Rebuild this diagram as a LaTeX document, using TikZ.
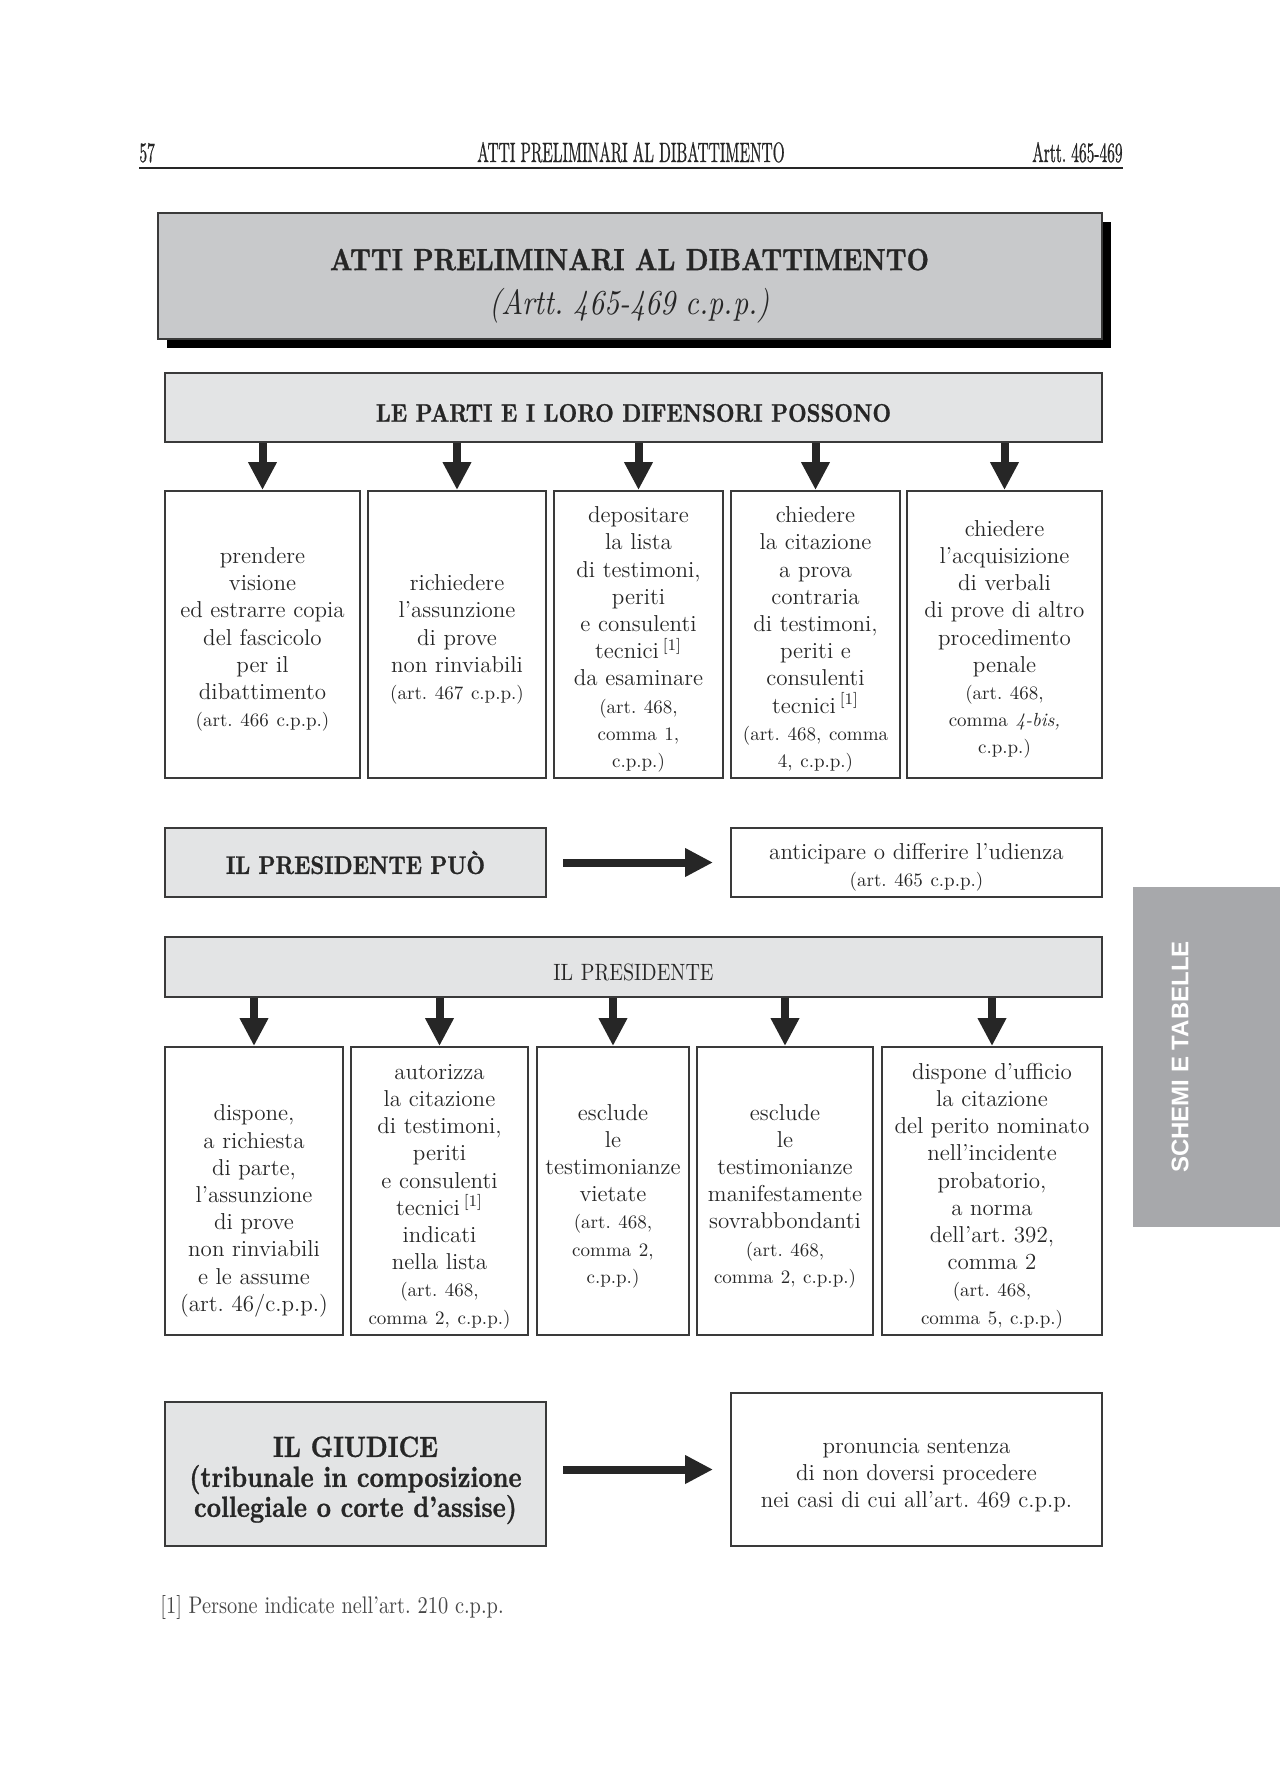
\documentclass[tikz,border=0pt]{standalone}
\usepackage{fontspec}
\usetikzlibrary{arrows.meta,shadows}

\newfontfamily\condfont[FakeStretch=0.85,Extension=.otf,UprightFont=*-regular,BoldFont=*-bold,ItalicFont=*-italic,BoldFeatures={FakeBold=1}]{lmroman10}
\newfontfamily\hdrfont[FakeStretch=0.55,FakeBold=0.6,Extension=.otf,UprightFont=*-regular]{lmroman10}
\newfontfamily\tabfont{Liberation Sans}
\frenchspacing

\definecolor{ink}{HTML}{262626}
\definecolor{edge}{HTML}{3A3A3A}
\definecolor{pale}{HTML}{E3E4E5}
\definecolor{mid}{HTML}{C8C9CB}
\definecolor{tabgray}{HTML}{A7A8AB}

\newcommand\cellfont{\fontsize{11.5}{13.6}\selectfont}
\newcommand\artfont{\fontsize{9.5}{13.6}\selectfont}
\newcommand\nota{\,\textsuperscript{[1]}}

\begin{document}
\begin{tikzpicture}[x=0.5pt, y=-0.5pt,
  cell/.style={draw=edge, line width=1pt, align=center, inner xsep=1pt, inner ysep=0pt, font=\cellfont, text=ink,
    execute at begin node={\rule{0pt}{1.13em}}},
  wd/.style={text width=#1},
  bar/.style={cell, fill=pale, font=\condfont\bfseries\fontsize{12.7}{15}\selectfont},
  push/.style={-{Triangle[width=13.5pt,length=14pt]}, line width=4pt, draw=ink}]
\useasboundingbox (0,0) rectangle (1280,1788);

% running head
\node[anchor=base west, inner sep=0, text=ink, font=\hdrfont\fontsize{14}{16}\selectfont] (pag) at (139,162) {57};
\node[anchor=base, inner sep=0, text=ink, font=\hdrfont\fontsize{14}{16}\selectfont] (run) at (631,162) {ATTI PRELIMINARI AL DIBATTIMENTO};
\node[anchor=base east, inner sep=0, text=ink, font=\hdrfont\fontsize{14}{16}\selectfont] (artt) at (1123,162) {Artt. 465-469};
\draw[line width=0.8pt, ink] (139,168) -- (1123,168);

\node[cell, fill=mid, wd=470pt, minimum height=63pt, font=\condfont\fontsize{15.3}{22}\selectfont,
  drop shadow={shadow xshift=4.5pt, shadow yshift=-4.5pt, fill=black, opacity=1}] (title) at (629.5,276)
  {\rule{0pt}{20.5pt}{\bfseries ATTI PRELIMINARI AL DIBATTIMENTO}\\{\itshape\fontsize{17.5}{22}\selectfont (Artt. 465-469 c.p.p.)}};

% le parti
\node[bar, wd=466.5pt, minimum height=34.5pt] (parti) at (633.5,407.5) {LE PARTI E I LORO DIFENSORI POSSONO};

\node[cell, wd=95.5pt, minimum height=143.5pt] (b1) at (262.5,634.5)
  {prendere\\visione\\ed estrarre copia\\del fascicolo\\per il\\dibattimento\\\artfont (art. 466 c.p.p.)};
\node[cell, wd=87pt, minimum height=143.5pt] (b2) at (457,634.5)
  {richiedere\\l’assunzione\\di prove\\non rinviabili\\\artfont (art. 467 c.p.p.)};
\node[cell, wd=82.5pt, minimum height=143.5pt] (b3) at (638.5,634.5)
  {depositare\\la lista\\di testimoni,\\periti\\e consulenti\\tecnici\nota\\da esaminare\\\artfont (art. 468,\\comma 1,\\c.p.p.)};
\node[cell, wd=82.5pt, minimum height=143.5pt] (b4) at (815.5,634.5)
  {chiedere\\la citazione\\a prova\\contraria\\di testimoni,\\periti e\\consulenti\\tecnici\nota\\\artfont (art. 468, comma\\4, c.p.p.)};
\node[cell, wd=95.5pt, minimum height=143.5pt] (b5) at (1004.5,634.5)
  {chiedere\\l’acquisizione\\di verbali\\di prove di altro\\procedimento\\penale\\\artfont (art. 468,\\comma \textit{4-bis,}\\c.p.p.)};
\foreach \n in {1,...,5}
  \draw[push] (parti.south -| b\n) -- (b\n);

% il presidente puo'
\node[draw=edge, line width=1pt, fill=pale, text=ink, inner sep=0pt, minimum width=190.5pt, minimum height=34.5pt,
  font=\condfont\bfseries\fontsize{12.7}{15}\selectfont] (puo) at (355.5,862.5) {IL PRESIDENTE PUÒ};
\node[cell, wd=183.5pt, minimum height=34.5pt] (antic) at (916.5,862.5)
  {anticipare o differire l’udienza\\\artfont (art. 465 c.p.p.)};
\draw[push, shorten <=8pt, shorten >=8.5pt] (puo) -- (antic);

% il presidente
\node[bar, wd=466.5pt, minimum height=30pt, font=\condfont\fontsize{11.8}{14}\selectfont] (pres) at (633.5,967) {IL PRESIDENTE};

\node[cell, wd=87pt, minimum height=144pt] (c1) at (254,1191)
  {\rule{0pt}{28pt}dispone,\\a richiesta\\di parte,\\l’assunzione\\di prove\\non rinviabili\\e le assume\\(art. 46/c.p.p.)};
\node[cell, wd=86.5pt, minimum height=144pt] (c2) at (439.5,1191)
  {autorizza\\la citazione\\di testimoni,\\periti\\e consulenti\\tecnici\nota\\indicati\\nella lista\\\artfont (art. 468,\\comma 2, c.p.p.)};
\node[cell, wd=74pt, minimum height=144pt] (c3) at (613,1191)
  {esclude\\le\\testimonianze\\vietate\\\artfont (art. 468,\\comma 2,\\c.p.p.)};
\node[cell, wd=86pt, minimum height=144pt] (c4) at (785,1191)
  {esclude\\le\\testimonianze\\manifestamente\\sovrabbondanti\\\artfont (art. 468,\\comma 2, c.p.p.)};
\node[cell, wd=108pt, minimum height=144pt] (c5) at (992,1191)
  {dispone d’ufficio\\la citazione\\del perito nominato\\nell’incidente\\probatorio,\\a norma\\dell’art. 392,\\comma 2\\\artfont (art. 468,\\comma 5, c.p.p.)};
\foreach \n in {1,...,5}
  \draw[push] (pres.south -| c\n) -- (c\n);

% il giudice
\node[bar, wd=188.5pt, minimum height=72pt, font=\condfont\bfseries\fontsize{14.6}{15}\selectfont] (giud) at (355.5,1474)
  {IL GIUDICE\\(tribunale in composizione\\collegiale o corte d’assise)};
\node[cell, wd=183.5pt, minimum height=76.5pt] (sent) at (916.5,1469.5)
  {pronuncia sentenza\\di non doversi procedere\\nei casi di cui all’art. 469 c.p.p.};
\draw[push, shorten <=8pt, shorten >=8.5pt] (giud.east |- sent) -- (sent);

\node[anchor=base west, inner sep=0, text=ink!85, font=\condfont\fontsize{12}{14}\selectfont] (fn) at (160,1613)
  {[1] Persone indicate nell’art. 210 c.p.p.};

% linguetta
\fill[tabgray] (1133,887) rectangle (1280,1227);
\node[rotate=90, text=white, font=\tabfont\bfseries\fontsize{12}{14}\selectfont] (tab) at (1180,1057) {SCHEMI E TABELLE};
\end{tikzpicture}
\end{document}
